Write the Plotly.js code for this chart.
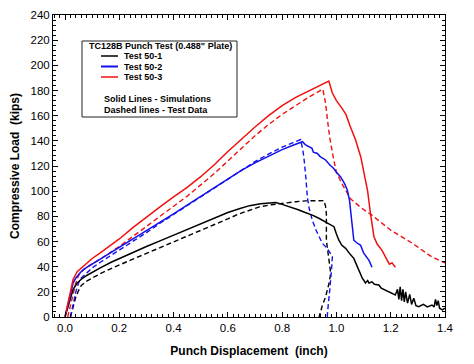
<!DOCTYPE html>
<html>
<head>
<meta charset="utf-8">
<script src="https://cdn.plot.ly/plotly-3.0.1.min.js"></script>
<style>html,body{margin:0;padding:0;background:#fff;}#chart{width:474px;height:364px;}</style>
</head>
<body>
<div id="chart"></div>
<script>
// Test 50-1 simulation (solid black)
const sim1X = [0,0.01,0.02,0.03,0.045,0.06,0.08,0.1,0.13,0.17,0.2,0.25,0.3,0.35,0.4,0.45,0.5,0.55,0.6,0.642,0.68,0.72,0.777,0.80,0.826,0.845,0.862,0.885,0.911,0.935,0.96,0.975,0.991,1.0,1.009,1.02,1.034,1.05,1.064,1.075,1.083,1.095,1.107,1.115,1.12,1.131,1.14,1.156,1.165,1.18,1.2,1.217,1.225,1.23,1.235,1.24,1.245,1.25,1.255,1.262,1.27,1.277,1.285,1.293,1.303,1.32,1.335,1.352,1.36,1.365,1.37,1.375,1.38,1.39,1.4];
const sim1Y = [0,8,16,22,27,30,33,35.5,39,43.5,46.5,51.5,56,60.5,65,69.5,74,78.5,83,86,88.5,90,91,89.5,87.7,86.5,85,83,81,78.5,75.7,74,71.8,66,61,57,54.6,50,46.6,41,37.4,31,27,29,27,28,26,25.4,23,21.5,19,17.5,22,14,24,13,22,12,20,11,18,10,15,9,8.2,10,8,9.5,8,14,9,13,7,5.6,7];
// Test 50-1 test data (dashed black)
const test1X = [0.02,0.03,0.04,0.05,0.06,0.08,0.1,0.13,0.17,0.2,0.25,0.3,0.35,0.4,0.45,0.5,0.55,0.6,0.642,0.68,0.716,0.76,0.8,0.85,0.887,0.92,0.954,0.96,0.963,0.963,0.97,0.979,0.972,0.96,0.948,0.936];
const test1Y = [0,8,16,21,25,28.5,31,34.5,38.5,41.5,46,50.5,55,59.5,64,68.5,73,78,82,85,87.5,89.2,90.4,91.6,92.3,92.6,92.5,88,82,61,48,34.7,26,16,9,0];
// Test 50-2 simulation (solid blue)
const sim2X = [0,0.01,0.02,0.03,0.04,0.055,0.07,0.1,0.13,0.17,0.2,0.25,0.3,0.35,0.4,0.45,0.5,0.55,0.6,0.65,0.7,0.75,0.8,0.84,0.875,0.885,0.899,0.91,0.915,0.93,0.94,0.96,0.975,0.99,1.0,1.015,1.03,1.04,1.048,1.056,1.064,1.075,1.089,1.1,1.107,1.12,1.131];
const sim2Y = [0,9,19,27,31,35,38,42,46,51,55,61.5,68,75,82,89,96,103,110,116.5,122.5,128,133,136.5,139.3,137,135,134,131,130,127.5,124.8,121,118,115,111.5,106,101,93,75,61,59,57,51,49,45,39.5];
// Test 50-2 test data (dashed blue)
const test2X = [0.02,0.03,0.04,0.05,0.06,0.08,0.1,0.13,0.17,0.2,0.25,0.3,0.35,0.4,0.45,0.5,0.55,0.6,0.65,0.7,0.75,0.8,0.84,0.868,0.876,0.88,0.887,0.893,0.9,0.911,0.925,0.936,0.948,0.966,0.985,0.982,0.979,0.974,0.97,0.966];
const test2Y = [0,10,20,27,31,35,39,43.5,49,53,60,67,74.5,81.5,88.5,96,103,110,117,123.5,129.5,135,138.5,141,133,127,111.5,95,86,77,69,63.8,58.6,54.6,48,38,28,18,10,0];
// Test 50-3 simulation (solid red)
const sim3X = [0,0.01,0.02,0.03,0.045,0.06,0.08,0.1,0.13,0.17,0.2,0.25,0.3,0.35,0.4,0.45,0.5,0.55,0.6,0.65,0.7,0.75,0.8,0.85,0.9,0.94,0.972,0.985,1.0,1.02,1.035,1.05,1.07,1.09,1.105,1.115,1.125,1.138,1.15,1.168,1.185,1.195,1.205,1.217];
const sim3Y = [0,10,22,30,36,39,43,46.5,51,57,62,71,79.5,87.5,95.5,103,111.5,121,131.5,141.5,151,160,168,174.5,180,184.5,187.5,178,172,166,161,152,141,127,112,100,83,64,58,53,46,42,43,39.5];
// Test 50-3 test data (dashed red)
const test3X = [0.01,0.02,0.03,0.04,0.05,0.065,0.09,0.13,0.17,0.2,0.25,0.3,0.35,0.4,0.45,0.5,0.55,0.6,0.65,0.7,0.75,0.8,0.85,0.9,0.95,0.96,0.968,0.975,0.99,1.0,1.02,1.052,1.09,1.13,1.2,1.277,1.35,1.4];
const test3Y = [0,8,18,27,33,37,41,46,51.5,56,64,72,80,88,96,105,114,124,134,144,153,161,168,175,181,170,155,143,125,115,106,94,87,81,69,59,48,43];

const seriesNames = ["Test 50-1","Test 50-2","Test 50-3"];
const seriesColors = ["#000000","#1010f0","#f01010"];
const legendTitle = 'TC128B Punch Test (0.488" Plate)';
const noteLines = ["Solid Lines - Simulations","Dashed lines - Test Data"];
const xTickVals = [0,0.2,0.4,0.6,0.8,1.0,1.2,1.4];
const yTickVals = [0,20,40,60,80,100,120,140,160,180,200,220,240];

const sims = [[sim1X,sim1Y],[sim2X,sim2Y],[sim3X,sim3Y]];
const tests = [[test1X,test1Y],[test2X,test2Y],[test3X,test3Y]];
const traces = [];
for (let i = 0; i < 3; i++) {
  traces.push({x: tests[i][0], y: tests[i][1], mode: 'lines', name: seriesNames[i] + ' test',
    line: {color: seriesColors[i], width: 1.4, dash: '5px,3px'}, showlegend: false});
}
for (let i = 0; i < 3; i++) {
  traces.push({x: sims[i][0], y: sims[i][1], mode: 'lines', name: seriesNames[i],
    line: {color: seriesColors[i], width: 1.5}, showlegend: false});
}

const font = 'Arial, "Liberation Sans", sans-serif';
const pxX = px => (px - 53) / 392;
const pxY = py => (317 - py) / 302;

const shapes = [{type: 'rect', xref: 'paper', yref: 'paper', x0: pxX(82), x1: pxX(237), y0: pxY(117), y1: pxY(41),
  line: {color: '#222', width: 1}, fillcolor: 'rgba(255,255,255,1)', layer: 'above'}];
const annotations = [{xref: 'paper', yref: 'paper', x: pxX(86.5), y: pxY(46), xanchor: 'left', yanchor: 'middle',
  text: '<b>' + legendTitle + '</b>', showarrow: false, font: {family: font, size: 9, color: '#000'}}];
const entryY = [56, 66.5, 77];
for (let i = 0; i < 3; i++) {
  shapes.push({type: 'line', xref: 'paper', yref: 'paper', x0: pxX(101), x1: pxX(118), y0: pxY(entryY[i]), y1: pxY(entryY[i]),
    line: {color: seriesColors[i], width: i === 1 ? 2 : 1.5}, layer: 'above'});
  annotations.push({xref: 'paper', yref: 'paper', x: pxX(122), y: pxY(entryY[i]), xanchor: 'left', yanchor: 'middle',
    text: '<b>' + seriesNames[i] + '</b>', showarrow: false, font: {family: font, size: 9, color: '#000'}});
}
const noteY = [99, 109.5];
for (let i = 0; i < 2; i++) {
  annotations.push({xref: 'paper', yref: 'paper', x: pxX(102), y: pxY(noteY[i]), xanchor: 'left', yanchor: 'middle',
    text: '<b>' + noteLines[i] + '</b>', showarrow: false, font: {family: font, size: 9, color: '#000'}});
}

const layout = {
  width: 474, height: 364,
  margin: {l: 53, r: 29, t: 15, b: 47},
  paper_bgcolor: '#fff', plot_bgcolor: '#fff',
  font: {family: font, size: 11, color: '#000'},
  showlegend: false,
  xaxis: {
    range: [-0.0442, 1.4], tickvals: xTickVals, tickformat: '.1f',
    ticks: 'inside', ticklen: 5, tickwidth: 1, tickcolor: '#000',
    minor: {dtick: 0.02, tick0: 0, ticks: 'inside', ticklen: 3, tickcolor: '#000', showgrid: false},
    showline: true, linecolor: '#000', linewidth: 1, mirror: 'allticks',
    showgrid: false, zeroline: false,
    tickfont: {family: font, size: 11.5, color: '#000'},
    title: {text: '<b>Punch Displacement  (inch)</b>', font: {family: font, size: 12, color: '#000'}, standoff: 13}
  },
  yaxis: {
    range: [0, 240], tickvals: yTickVals,
    ticks: 'inside', ticklen: 5, tickwidth: 1, tickcolor: '#000',
    minor: {dtick: 4, tick0: 0, ticks: 'inside', ticklen: 3, tickcolor: '#000', showgrid: false},
    showline: true, linecolor: '#000', linewidth: 1, mirror: 'allticks',
    showgrid: false, zeroline: false,
    tickfont: {family: font, size: 11.5, color: '#000'},
    title: {text: '<b>Compressive Load  (kips)</b>', font: {family: font, size: 12, color: '#000'}, standoff: 8}
  },
  shapes: shapes,
  annotations: annotations
};

Plotly.newPlot('chart', traces, layout, {staticPlot: true, displayModeBar: false});
</script>
</body>
</html>
